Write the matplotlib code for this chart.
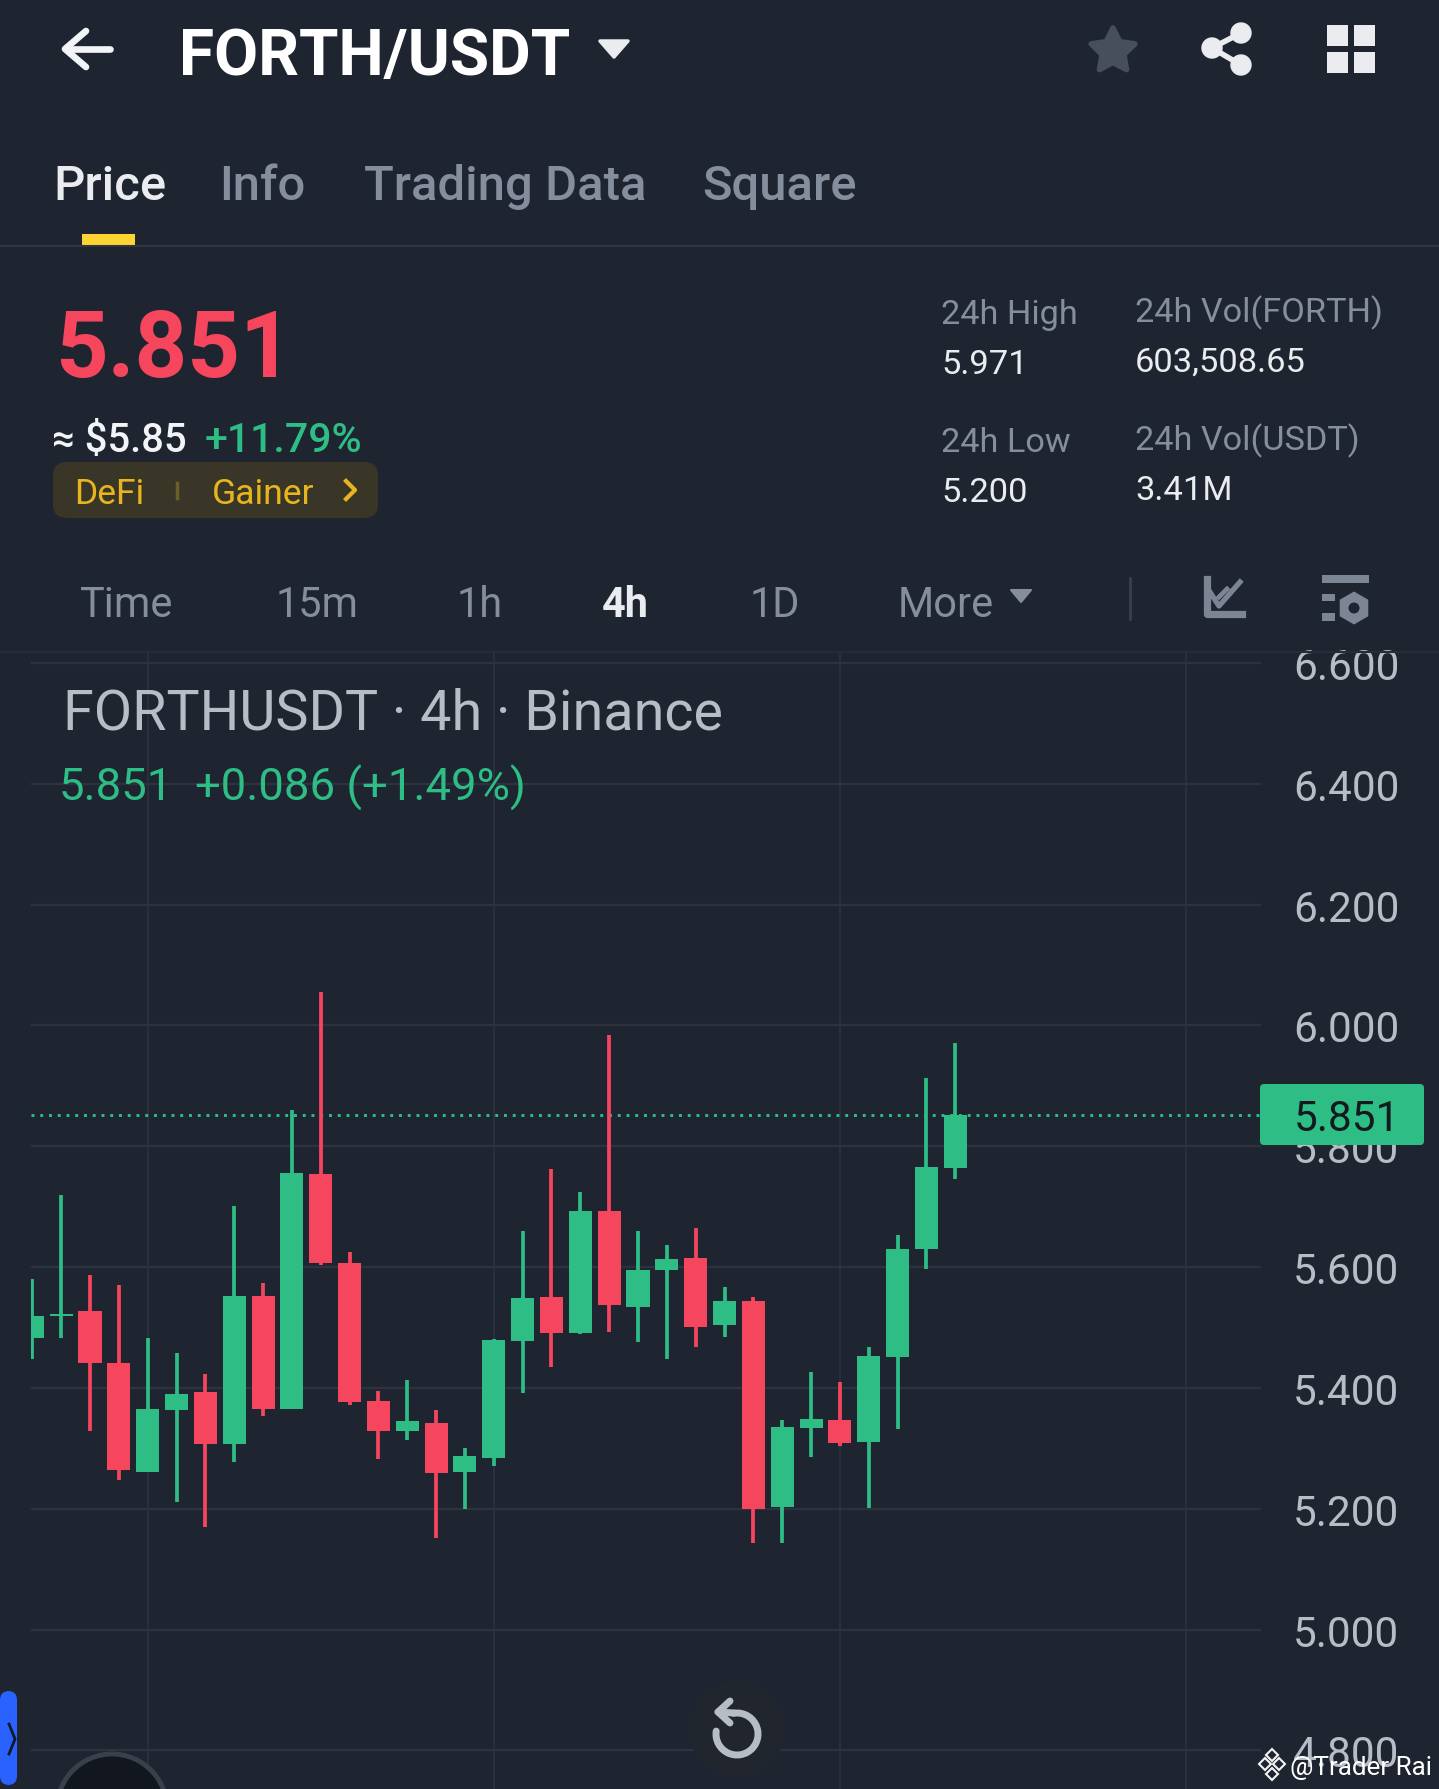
import math
import matplotlib
matplotlib.use("Agg")
import matplotlib.pyplot as plt
from matplotlib.patches import FancyBboxPatch, Circle, Polygon, Rectangle, RegularPolygon, Arc

# ---- data ----
opens  = [5.482,5.519,5.527,5.441,5.260,5.363,5.393,5.307,5.552,5.365,5.754,5.607,5.379,5.329,5.341,5.260,5.284,
          5.478,5.550,5.491,5.692,5.534,5.595,5.615,5.504,5.544,5.203,5.334,5.347,5.310,5.451,5.630,5.764]
highs  = [5.580,5.719,5.587,5.570,5.482,5.457,5.423,5.701,5.573,5.860,6.056,5.625,5.394,5.413,5.363,5.301,5.481,
          5.660,5.762,5.724,5.984,5.660,5.637,5.665,5.567,5.550,5.347,5.426,5.410,5.467,5.653,5.913,5.971]
lows   = [5.447,5.482,5.329,5.248,5.260,5.211,5.170,5.277,5.353,5.365,5.603,5.372,5.282,5.313,5.151,5.199,5.270,
          5.391,5.435,5.489,5.492,5.476,5.447,5.468,5.484,5.143,5.144,5.285,5.303,5.201,5.332,5.597,5.745]
closes = [5.519,5.523,5.441,5.264,5.365,5.390,5.307,5.552,5.365,5.755,5.607,5.376,5.329,5.345,5.259,5.287,5.479,
          5.548,5.491,5.692,5.537,5.595,5.613,5.500,5.544,5.199,5.335,5.348,5.309,5.453,5.630,5.766,5.851]
last_price = 5.851
price_ticks = [4.8,5.0,5.2,5.4,5.6,5.8,6.0,6.2,6.4,6.6]
price_labels = ["4.800","5.000","5.200","5.400","5.600","5.800","6.000","6.200","6.400","6.600"]
time_gridlines = [4,16,28,40]

# ---- colours ----
BG="#1E2530"; GREEN="#2EBD85"; RED="#F6465D"; GRID="#2D333E"; MUTED="#848E9C"; LIGHT="#B7BDC6"
WHITE="#F2F4F7"; YEL="#E8B51E"; ICON="#7C8594"

plt.rcParams['font.family']=['Roboto','DejaVu Sans']
W,H=1439,1790
fig=plt.figure(figsize=(W/100,H/100),dpi=100,facecolor=BG)

# chart axes, placed in pixels
L,R,T,B=31,1261,653,1790
ax=fig.add_axes([L/W,1-B/H,(R-L)/W,(B-T)/H],facecolor=BG,zorder=1)
ax.set_xlim(-0.046,42.6)
ax.set_ylim(4.736,6.618)
for s in ax.spines.values(): s.set_visible(False)
ax.yaxis.tick_right()
ax.set_yticks(price_ticks); ax.set_yticklabels(price_labels,fontsize=30.5,color=LIGHT)
ax.set_xticks(time_gridlines); ax.set_xticklabels([])
ax.tick_params(axis='both',length=0)
ax.tick_params(axis='y',pad=23)
ax.grid(axis='y',color=GRID,lw=1.7)
ax.grid(axis='x',color=GRID,lw=1.2)
ax.set_axisbelow(True)
xs=list(range(len(opens)))
cols=[GREEN if c>=o else RED for o,c in zip(opens,closes)]
ax.vlines(xs,lows,highs,colors=cols,lw=2.7,zorder=3)
ax.bar(xs,[abs(c-o) for o,c in zip(opens,closes)],bottom=[min(o,c) for o,c in zip(opens,closes)],
       width=0.8,color=cols,lw=0,zorder=4)
ax.axhline(last_price,color=GREEN,lw=2.1,ls=(0,(1,2)),zorder=2)

# UI overlay in pixels
ui=fig.add_axes([0,0,1,1],facecolor='none',zorder=3)
ui.set_xlim(0,W); ui.set_ylim(H,0); ui.axis('off')

def t(x,y,s,px,c=WHITE,w='normal',ha='left',**k):
    return ui.text(x,y,s,fontsize=px*0.72,color=c,fontweight=w,ha=ha,va='center_baseline',**k)

# header
ui.plot([68,110],[50,50],color=WHITE,lw=4.8,solid_capstyle='round')
ui.plot([86,65,86],[32,50,68],color=WHITE,lw=4.8,solid_capstyle='round',solid_joinstyle='round')
t(179,51,"FORTH/USDT",64,'#FFFFFF','bold')
ui.add_patch(Polygon([[600,42],[628,42],[614,58]],closed=True,fc='#EAECEF',ec='#EAECEF',lw=2.5,joinstyle='round'))
star=[]
for k in range(10):
    r=23 if k%2==0 else 11.5
    a=-math.pi/2+k*math.pi/5
    star.append([1113+r*math.cos(a),52+r*math.sin(a)])
ui.add_patch(Polygon(star,closed=True,fc='#474F5C',ec='#474F5C',lw=4,joinstyle='round'))
ui.plot([1241,1212,1241],[34,49,66],color='#EAECEF',lw=4)
for cx,cy in [(1241,34),(1212,49),(1241,66)]:
    ui.add_patch(Circle((cx,cy),10,color='#EAECEF'))
for x0,y0 in [(1327,26),(1354,26),(1327,53),(1354,53)]:
    ui.add_patch(Rectangle((x0,y0),21,21,color='#EAECEF',lw=0))

# tabs
t(53,182,"Price",49,'#EAECEF','medium')
t(219,182,"Info",49,MUTED,'medium')
t(364,182,"Trading Data",49,MUTED,'medium')
t(702,182,"Square",49,MUTED,'medium')
ui.add_patch(Rectangle((82,235),53,11,color='#FCD535',lw=0))
ui.plot([0,W],[247,247],color='#2F3640',lw=1.5)

# price block
t(55,342,"5.851",92,RED,'bold')
t(52,437,"≈ $5.85",40,WHITE,'medium')
t(205,437,"+11.79%",41,GREEN,'medium')
ui.add_patch(FancyBboxPatch((53,463),325,56,boxstyle="round,pad=0,rounding_size=14",fc='#3A3627',ec='none',lw=0))
t(74,491,"DeFi",35.5,YEL)
t(212,491,"Gainer",35.5,YEL)
ui.plot([177,177],[484,499],color='#6B5E28',lw=2.5)
ui.plot([346,355,346],[482,491,500],color=YEL,lw=3)

# stats
t(941,311,"24h High",34.3,MUTED)
t(941,361,"5.971",34.5,'#EAECEF')
t(1135,309,"24h Vol(FORTH)",34.3,MUTED)
t(1135,359,"603,508.65",34.5,'#EAECEF')
t(941,439,"24h Low",34.3,MUTED)
t(941,489,"5.200",34.5,'#EAECEF')
t(1135,437,"24h Vol(USDT)",34.3,MUTED)
t(1135,487,"3.41M",34.5,'#EAECEF')

# interval row
for x,s in [(80,"Time"),(276,"15m"),(457,"1h"),(750,"1D"),(898,"More")]:
    t(x,601,s,41.5,MUTED)
t(602,601,"4h",41.5,'#EAECEF','bold')
ui.add_patch(Polygon([[1011,591],[1031,591],[1021,603]],closed=True,fc=MUTED,ec=MUTED,lw=1.5,joinstyle='round'))
ui.plot([1130,1130],[579,620],color='#3A404B',lw=2)
# chart icon
ui.plot([1207,1207,1242],[580,615,615],color=ICON,lw=5.2)
ui.plot([1240,1219,1208],[583,607,590],color=ICON,lw=3.8)
ui.plot([1219,1227],[598,590],color=ICON,lw=3.4)
# settings icon
ui.add_patch(Rectangle((1322,576),47,8,color=ICON,lw=0))
ui.add_patch(Rectangle((1322,595),13,7,color=ICON,lw=0))
ui.add_patch(Rectangle((1322,614),13,8,color=ICON,lw=0))
ui.add_patch(RegularPolygon((1354,609),6,radius=16.5,color=ICON,lw=0))
ui.add_patch(Circle((1354,609),5.5,color=BG,lw=0))
ui.plot([0,W],[653,653],color='#272D37',lw=1.5)

# chart legend
t(63,708,"FORTHUSDT · 4h · Binance",55.7,LIGHT)
t(59,783,"5.851",45.5,GREEN)
t(195,783,"+0.086 (+1.49%)",45.5,GREEN)

# last-price tag
ui.add_patch(FancyBboxPatch((1260,1085),164,61,boxstyle="round,pad=0,rounding_size=4",fc=GREEN,ec='none',lw=0))
ui.text(1347,1115,f"{last_price:.3f}",fontsize=30.5,color='#14181F',ha='center',va='center_baseline')

# bottom widgets
ui.add_patch(FancyBboxPatch((0,1692),17,94,boxstyle="round,pad=0,rounding_size=9",fc='#2962FF',ec='none',lw=0))
ui.plot([9,15,9],[1725,1740,1755],color='#101828',lw=2)
ui.add_patch(Circle((112,1810),55,fc='#12161E',ec='#3A404B',lw=3.5))
ui.add_patch(Circle((737,1730),48,fc='#20252E',ec='none',lw=0))
ui.add_patch(Arc((737,1735),42,42,angle=0,theta1=-100,theta2=188,color=LIGHT,lw=5,capstyle='round'))
ui.plot([730,718,730],[1702,1713,1724],color=LIGHT,lw=5,solid_capstyle='round',solid_joinstyle='round')
ui.plot([718,734],[1713,1714],color=LIGHT,lw=5,solid_capstyle='round')

# watermark
for cx,cy,r in [(1272,1756,6),(1265,1765,6),(1279,1765,6),(1272,1775,6)]:
    ui.add_patch(RegularPolygon((cx,cy),4,radius=r,fc='none',ec=WHITE,lw=1.5))
t(1290,1766,"@Trader Rai",26,'#FFFFFF')

fig.savefig("out.png",dpi=100,facecolor=BG)
